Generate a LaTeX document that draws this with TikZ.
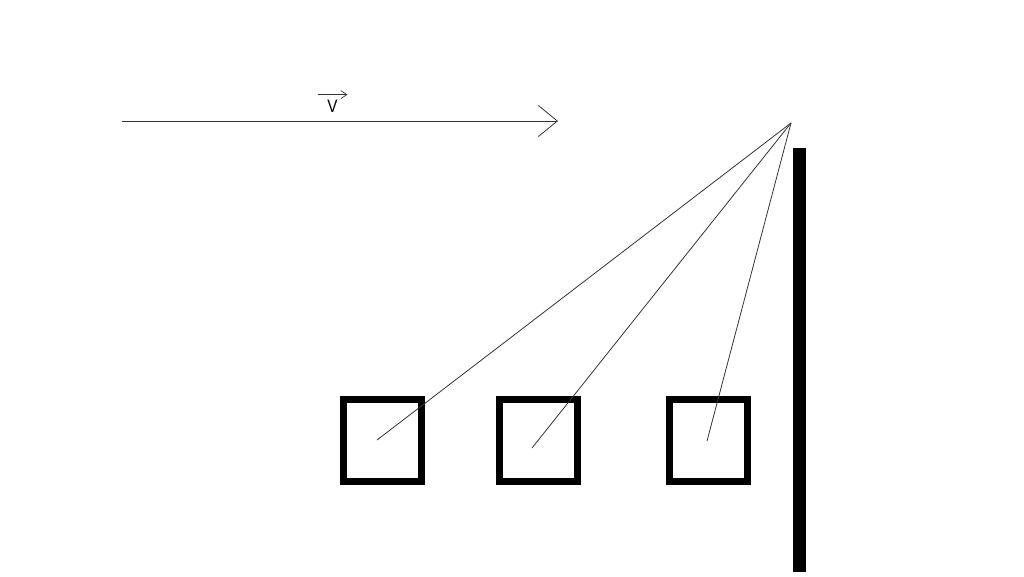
\documentclass[tikz,border=0pt]{standalone}
\usepackage{fontspec}
\setsansfont{Liberation Sans}
\usetikzlibrary{arrows.meta}
\begin{document}
\begin{tikzpicture}[x=1pt,y=-1pt,
  boxst/.style={draw=black,line width=7pt,minimum width=78pt,minimum height=82pt,inner sep=0pt},
  ray/.style={draw=black!80,line width=0.8pt},
  wallst/.style={fill=black,draw=none,minimum width=13pt,minimum height=424pt,inner sep=0pt}]
\useasboundingbox (0,0) rectangle (1024,576);
% velocity arrow
\coordinate (vs) at (122,121);
\coordinate (ve) at (558,121);
\draw[line width=0.8pt,draw=black!80,-{Straight Barb[length=19pt,width=31pt,line width=0.8pt]}] (vs) -- (ve);
\node[font=\sffamily\fontsize{18}{18}\selectfont,inner sep=0pt,xscale=0.85] (v) at (332.5,106.5) {V};
\draw[line width=0.7pt,draw=black!80,-{Straight Barb[length=6pt,width=8pt]}] ([xshift=-15pt,yshift=5.5pt]v.north) -- ([xshift=15pt,yshift=5.5pt]v.north);
% wall
\node[wallst,anchor=north west] (wall) at (793,148) {};
% boxes
\node[boxst] (b1) at (382.5,440.5) {};
\node[boxst] (b2) at (538,440.5) {};
\node[boxst] (b3) at (708,440.5) {};
% apex and ray ends
\coordinate (apex) at (791,123);
\coordinate (e1) at (377,440);
\coordinate (e2) at (532,448);
\coordinate (e3) at (707,441);
\draw[ray] (apex) -- (e1);
\draw[ray] (apex) -- (e2);
\draw[ray] (apex) -- (e3);
\end{tikzpicture}
\end{document}
